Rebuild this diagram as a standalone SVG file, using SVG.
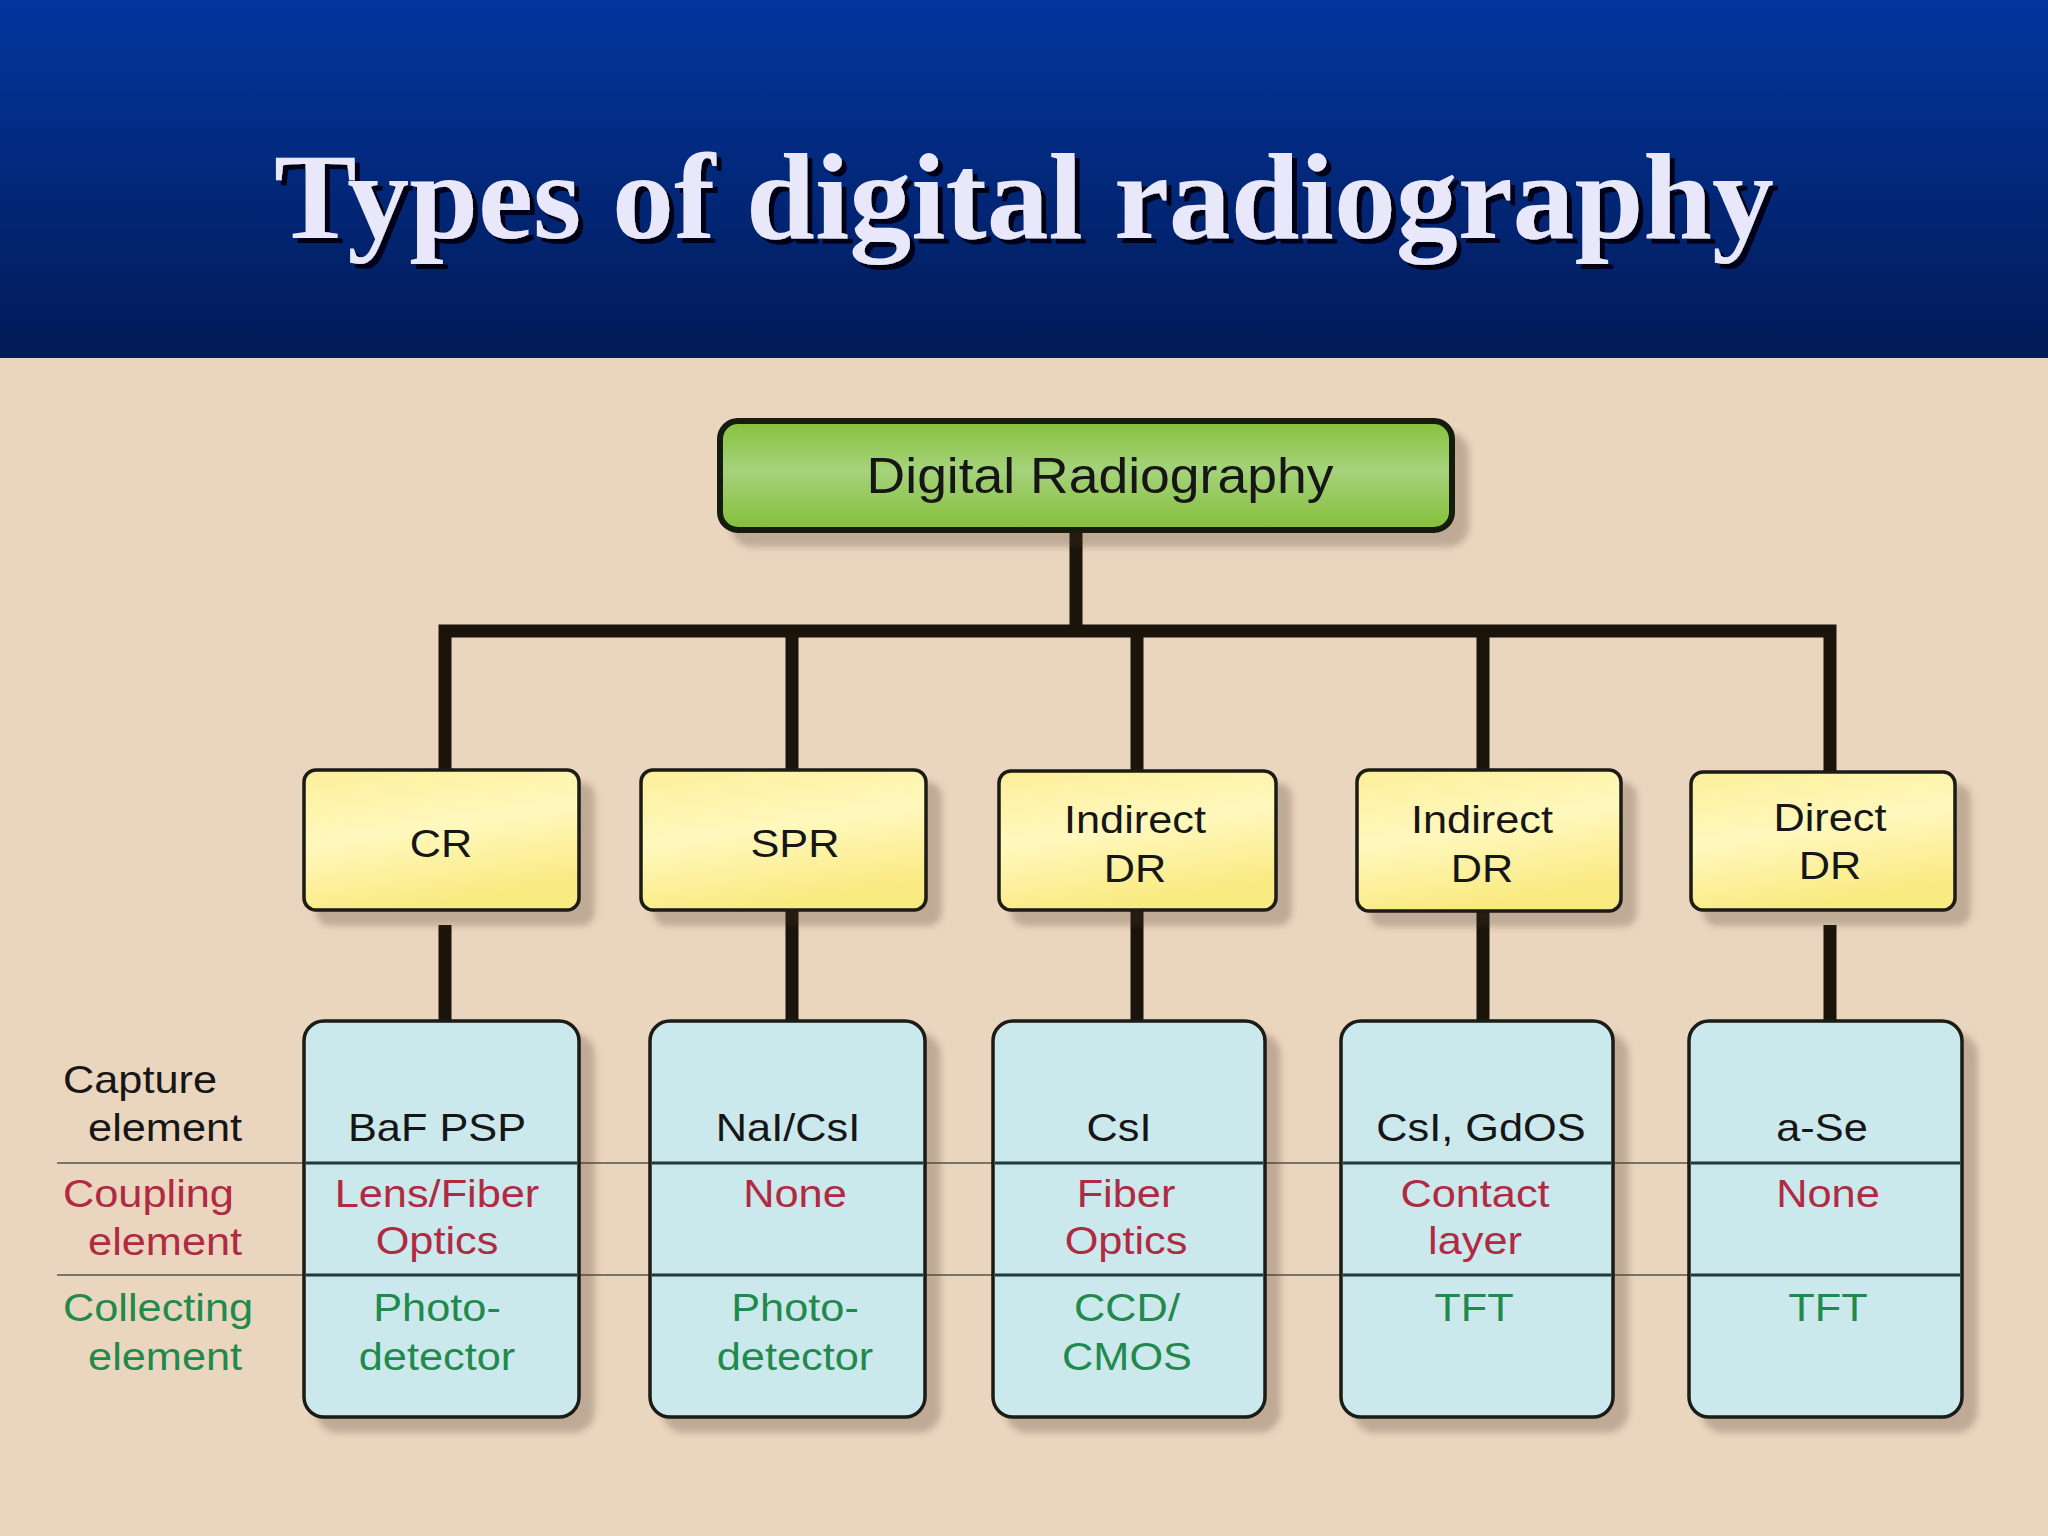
<svg xmlns="http://www.w3.org/2000/svg" width="2048" height="1536" viewBox="0 0 2048 1536">
<defs>
  <linearGradient id="hdr" x1="0" y1="0" x2="0" y2="1">
    <stop offset="0" stop-color="#02369e"/>
    <stop offset="1" stop-color="#021a57"/>
  </linearGradient>
  <linearGradient id="green" x1="0" y1="0" x2="0" y2="1">
    <stop offset="0" stop-color="#86c23a"/>
    <stop offset="0.45" stop-color="#a5d27c"/>
    <stop offset="1" stop-color="#84bf38"/>
  </linearGradient>
  <linearGradient id="yellow" x1="0" y1="0" x2="0.3" y2="1">
    <stop offset="0" stop-color="#fcef9a"/>
    <stop offset="0.5" stop-color="#fff8bd"/>
    <stop offset="1" stop-color="#faea82"/>
  </linearGradient>
  <filter id="shadow" x="-10%" y="-10%" width="130%" height="140%">
    <feDropShadow dx="14" dy="14" stdDeviation="3" flood-color="#4a3420" flood-opacity="0.26"/>
  </filter>
  <filter id="tshadow" x="-5%" y="-10%" width="110%" height="130%">
    <feDropShadow dx="5" dy="5" stdDeviation="0.6" flood-color="#000018" flood-opacity="1"/>
  </filter>
</defs>
<style>
  .box{stroke:#1a1a14;stroke-width:3.5}
  .root{fill:url(#green);stroke:#141a0e;stroke-width:6}
  .yel{fill:url(#yellow)}
  .blu{fill:#cbe8ec}
  .div{stroke:#1e383c;stroke-width:3}
  .row{stroke:#7a7568;stroke-width:2}
  .con{fill:none;stroke:#1a140a;stroke-width:13;stroke-linejoin:miter;stroke-linecap:butt}
  .t{font-family:"Liberation Sans",Arial,Helvetica,sans-serif;font-size:38px;text-anchor:middle}
  .l{font-family:"Liberation Sans",Arial,Helvetica,sans-serif;font-size:38px;text-anchor:start}
  .k{fill:#161616}
  .r{fill:#b02a42}
  .g{fill:#1f8a4c}
  .title{font-family:"Liberation Serif","Times New Roman",serif;font-weight:bold;font-size:122px;fill:#e8e8fa;text-anchor:middle}
</style>

<!-- background -->
<rect x="0" y="0" width="2048" height="1536" fill="#ead5bf"/>
<rect x="0" y="0" width="2048" height="358" fill="url(#hdr)"/>
<text class="title" x="1024" y="238" textLength="1500" lengthAdjust="spacingAndGlyphs" filter="url(#tshadow)">Types of digital radiography</text>

<!-- row separator lines -->
<g id="row-lines">
  <line class="row" x1="57" y1="1163" x2="1962" y2="1163"/>
  <line class="row" x1="57" y1="1275" x2="1962" y2="1275"/>
</g>

<!-- connectors -->
<g id="connectors">
  <line class="con" x1="1076" y1="530" x2="1076" y2="631"/>
  <path class="con" d="M445,771 V631 H1830 V771"/>
  <line class="con" x1="792" y1="631" x2="792" y2="771"/>
  <line class="con" x1="1137" y1="631" x2="1137" y2="771"/>
  <line class="con" x1="1483" y1="631" x2="1483" y2="771"/>
  <line class="con" x1="445" y1="925" x2="445" y2="1022"/>
  <line class="con" x1="792" y1="909" x2="792" y2="1022"/>
  <line class="con" x1="1137" y1="909" x2="1137" y2="1022"/>
  <line class="con" x1="1483" y1="909" x2="1483" y2="1022"/>
  <line class="con" x1="1830" y1="925" x2="1830" y2="1022"/>
</g>

<!-- root node -->
<g id="node-root">
  <rect class="root" x="720" y="421" width="732" height="109" rx="18" filter="url(#shadow)"/>
  <text class="t k" style="font-size:50px" transform="translate(1100,493) scale(1.07,1)">Digital Radiography</text>
</g>

<!-- level 2 nodes -->
<g id="node-cr">
  <rect class="box yel" x="304" y="770" width="275" height="140" rx="12" filter="url(#shadow)"/>
  <text class="t k" transform="translate(441,857) scale(1.14,1)">CR</text>
</g>
<g id="node-spr">
  <rect class="box yel" x="641" y="770" width="285" height="140" rx="12" filter="url(#shadow)"/>
  <text class="t k" transform="translate(795,857) scale(1.14,1)">SPR</text>
</g>
<g id="node-indirect-dr-1">
  <rect class="box yel" x="999" y="771" width="277" height="139" rx="12" filter="url(#shadow)"/>
  <text class="t k" transform="translate(1135,0) scale(1.14,1)"><tspan x="0" y="833">Indirect</tspan><tspan x="0" y="882">DR</tspan></text>
</g>
<g id="node-indirect-dr-2">
  <rect class="box yel" x="1357" y="770" width="264" height="141" rx="12" filter="url(#shadow)"/>
  <text class="t k" transform="translate(1482,0) scale(1.14,1)"><tspan x="0" y="833">Indirect</tspan><tspan x="0" y="882">DR</tspan></text>
</g>
<g id="node-direct-dr">
  <rect class="box yel" x="1691" y="772" width="264" height="138" rx="12" filter="url(#shadow)"/>
  <text class="t k" transform="translate(1830,0) scale(1.14,1)"><tspan x="0" y="831">Direct</tspan><tspan x="0" y="879">DR</tspan></text>
</g>

<!-- level 3 nodes -->
<g id="node-cr-detail">
  <rect class="box blu" x="304" y="1021" width="275" height="396" rx="20" filter="url(#shadow)"/>
  <line class="div" x1="306" y1="1163" x2="577" y2="1163"/>
  <line class="div" x1="306" y1="1275" x2="577" y2="1275"/>
  <text class="t k" transform="translate(437,1141) scale(1.14,1)">BaF PSP</text>
  <text class="t r" transform="translate(437,0) scale(1.14,1)"><tspan x="0" y="1207">Lens/Fiber</tspan><tspan x="0" y="1254">Optics</tspan></text>
  <text class="t g" transform="translate(437,0) scale(1.14,1)"><tspan x="0" y="1321">Photo-</tspan><tspan x="0" y="1370">detector</tspan></text>
</g>
<g id="node-spr-detail">
  <rect class="box blu" x="650" y="1021" width="275" height="396" rx="20" filter="url(#shadow)"/>
  <line class="div" x1="652" y1="1163" x2="923" y2="1163"/>
  <line class="div" x1="652" y1="1275" x2="923" y2="1275"/>
  <text class="t k" transform="translate(788,1141) scale(1.14,1)">NaI/CsI</text>
  <text class="t r" transform="translate(795,1207) scale(1.14,1)">None</text>
  <text class="t g" transform="translate(795,0) scale(1.14,1)"><tspan x="0" y="1321">Photo-</tspan><tspan x="0" y="1370">detector</tspan></text>
</g>
<g id="node-indirect-1-detail">
  <rect class="box blu" x="993" y="1021" width="272" height="396" rx="20" filter="url(#shadow)"/>
  <line class="div" x1="995" y1="1163" x2="1263" y2="1163"/>
  <line class="div" x1="995" y1="1275" x2="1263" y2="1275"/>
  <text class="t k" transform="translate(1119,1141) scale(1.14,1)">CsI</text>
  <text class="t r" transform="translate(1126,0) scale(1.14,1)"><tspan x="0" y="1207">Fiber</tspan><tspan x="0" y="1254">Optics</tspan></text>
  <text class="t g" transform="translate(1127,0) scale(1.14,1)"><tspan x="0" y="1321">CCD/</tspan><tspan x="0" y="1370">CMOS</tspan></text>
</g>
<g id="node-indirect-2-detail">
  <rect class="box blu" x="1341" y="1021" width="272" height="396" rx="20" filter="url(#shadow)"/>
  <line class="div" x1="1343" y1="1163" x2="1611" y2="1163"/>
  <line class="div" x1="1343" y1="1275" x2="1611" y2="1275"/>
  <text class="t k" transform="translate(1481,1141) scale(1.14,1)">CsI, GdOS</text>
  <text class="t r" transform="translate(1475,0) scale(1.14,1)"><tspan x="0" y="1207">Contact</tspan><tspan x="0" y="1254">layer</tspan></text>
  <text class="t g" transform="translate(1474,1321) scale(1.14,1)">TFT</text>
</g>
<g id="node-direct-detail">
  <rect class="box blu" x="1689" y="1021" width="273" height="396" rx="20" filter="url(#shadow)"/>
  <line class="div" x1="1691" y1="1163" x2="1960" y2="1163"/>
  <line class="div" x1="1691" y1="1275" x2="1960" y2="1275"/>
  <text class="t k" transform="translate(1822,1141) scale(1.14,1)">a-Se</text>
  <text class="t r" transform="translate(1828,1207) scale(1.14,1)">None</text>
  <text class="t g" transform="translate(1828,1321) scale(1.14,1)">TFT</text>
</g>

<!-- row labels -->
<g id="row-labels">
  <text class="l k" transform="translate(63,0) scale(1.14,1)"><tspan x="0" y="1093">Capture</tspan><tspan x="22" y="1141">element</tspan></text>
  <text class="l r" transform="translate(63,0) scale(1.14,1)"><tspan x="0" y="1207">Coupling</tspan><tspan x="22" y="1255">element</tspan></text>
  <text class="l g" transform="translate(63,0) scale(1.14,1)"><tspan x="0" y="1321">Collecting</tspan><tspan x="22" y="1370">element</tspan></text>
</g>
</svg>
